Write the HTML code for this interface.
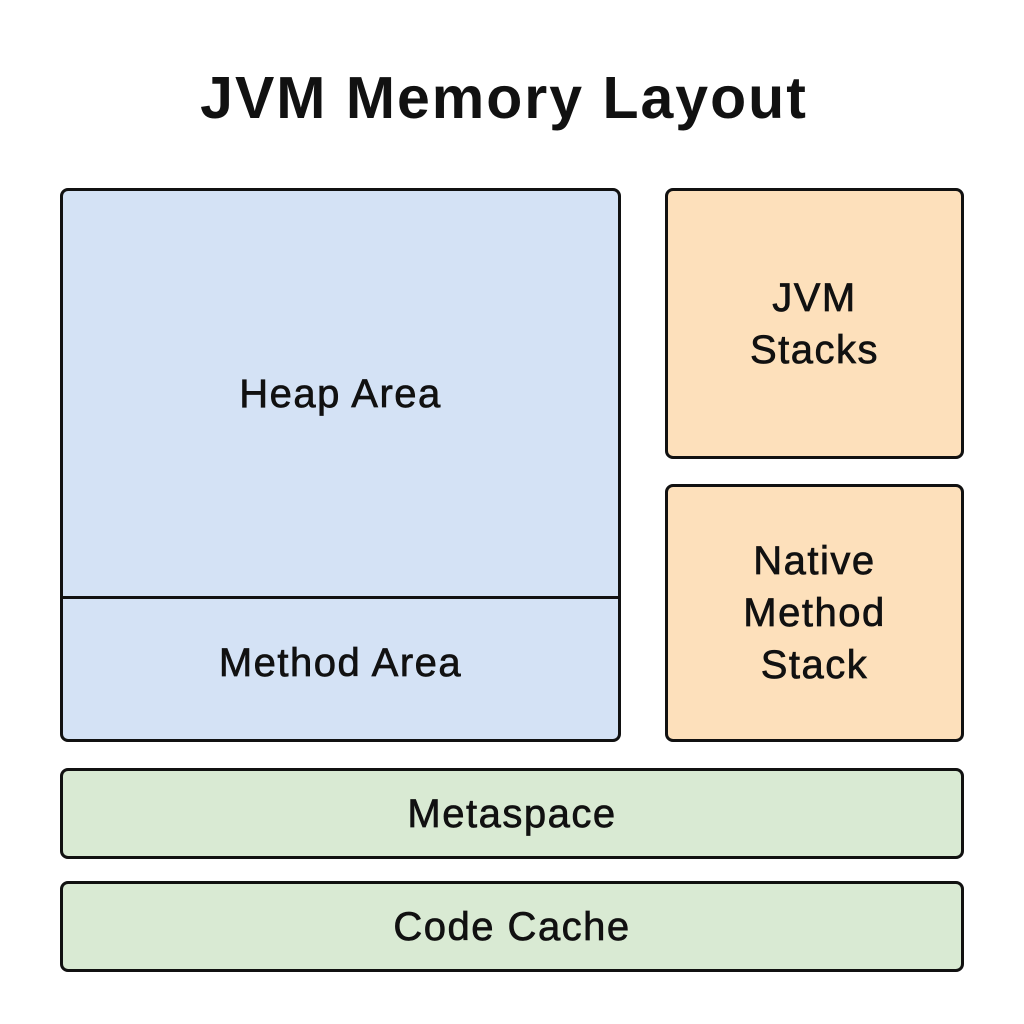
<!DOCTYPE html>
<html><head><style>
body{margin:0;width:1024px;height:1024px;background:#fff;position:relative;font-family:"Liberation Sans",sans-serif;overflow:hidden}
.b{position:absolute;box-sizing:border-box;border:3px solid #111;border-radius:8px;display:flex;align-items:center;justify-content:center;text-align:center;font-size:40px;letter-spacing:1.5px;color:#111;line-height:52px;-webkit-text-stroke:0.7px #111}
.t{position:absolute;left:-8px;width:1024px;top:64px;text-align:center;font-size:59px;letter-spacing:2px;font-weight:bold;color:#111}
</style></head><body>
<div class="t">JVM Memory Layout</div>
<div class="b" style="left:60px;top:188px;width:561px;height:554px;background:#d4e2f5;display:block">
<div style="position:absolute;left:0;right:0;top:0;height:405px;border-bottom:3px solid #111;display:flex;align-items:center;justify-content:center">Heap Area</div>
<div style="position:absolute;left:0;right:0;top:408px;bottom:0;display:flex;align-items:center;justify-content:center;padding-bottom:12px">Method Area</div>
</div>
<div class="b" style="left:665px;top:188px;width:299px;height:271px;background:#fde0bb">JVM<br>Stacks</div>
<div class="b" style="left:665px;top:484px;width:299px;height:258px;background:#fde0bb">Native<br>Method<br>Stack</div>
<div class="b" style="left:60px;top:768px;width:904px;height:91px;background:#d9ead3">Metaspace</div>
<div class="b" style="left:60px;top:881px;width:904px;height:91px;background:#d9ead3">Code Cache</div>
</body></html>
